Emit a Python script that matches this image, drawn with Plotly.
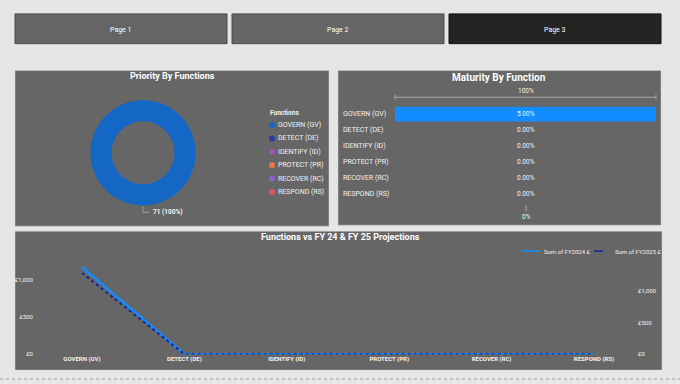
import plotly.graph_objects as go

W, H = 680, 384
def X(px): return px / W
def Y(py): return 1 - py / H

# ---------------- data ----------------
pages = ["Page 1", "Page 2", "Page 3"]
functions = ["GOVERN (GV)", "DETECT (DE)", "IDENTIFY (ID)", "PROTECT (PR)", "RECOVER (RC)", "RESPOND (RS)"]
priority_counts = [71, 0, 0, 0, 0, 0]
func_colors = ["#1467C4", "#2B3B9E", "#A452B5", "#E8794A", "#8E60CC", "#D65A62"]
maturity_pct = [5.00, 0.00, 0.00, 0.00, 0.00, 0.00]
maturity_axis_labels = ["0%", "100%"]
series_names = ["Sum of FY2024 £", "Sum of FY2025 £"]
fy2024 = [1170, 0, 0, 0, 0, 0]
fy2025 = [1280, 0, 0, 0, 0, 0]
money_ticks = [0, 500, 1000]
money_labels = ["£0", "£500", "£1,000"]

FONT = "Roboto"
TXT = "#f2f2f2"
fig = go.Figure()
shapes, annots = [], []

def text(t, x, y, size, anchor="center", color=TXT, bold=False):
    annots.append(dict(text=f"<b>{t}</b>" if bold else t, xref="paper", yref="paper", x=X(x), y=Y(y),
                       showarrow=False, font=dict(family=FONT, size=size, color=color),
                       xanchor=anchor, yanchor="middle"))

# ---------------- page buttons ----------------
btn_x = [(15, 227), (232, 444), (449, 661)]
for i, (p, (x0, x1)) in enumerate(zip(pages, btn_x)):
    active = i == 2
    shapes.append(dict(type="rect", xref="paper", yref="paper", x0=X(x0), x1=X(x1), y0=Y(44), y1=Y(14),
                       fillcolor="#252423" if active else "#656565",
                       line=dict(color="#111111" if active else "#4a4a4a", width=1), layer="below"))
    text(p, (x0 + x1) / 2, 30, 7, color="white")

# ---------------- panels ----------------
for (x0, y0, x1, y1) in [(15, 71, 329, 228), (338, 71, 661, 227), (15, 233, 662, 373)]:
    shapes.append(dict(type="rect", xref="paper", yref="paper", x0=X(x0), x1=X(x1), y0=Y(y1), y1=Y(y0),
                       fillcolor="#666666", line=dict(color="#d0d0d0", width=0.5), layer="below"))
# canvas bottom edge (dotted)
shapes.append(dict(type="line", xref="paper", yref="paper", x0=0, x1=1, y0=Y(382), y1=Y(382),
                   line=dict(color="#9a9a9a", width=1, dash="dot")))

text("Priority By Functions", 172, 77, 9, color="white", bold=True)
text("Maturity By Function", 499, 78, 10, color="white", bold=True)
text("Functions vs FY 24 & FY 25 Projections", 340, 239, 9, color="white", bold=True)

# ---------------- donut ----------------
fig.add_trace(go.Pie(labels=functions, values=priority_counts, hole=0.6, sort=False,
                     marker=dict(colors=func_colors, line=dict(width=0)), textinfo="none",
                     domain=dict(x=[X(90), X(196)], y=[Y(207), Y(101)]), showlegend=False,
                     automargin=False))
total = sum(priority_counts)
text(f"{priority_counts[0]} ({priority_counts[0] / total * 100:.0f}%)", 151, 214, 6.5, anchor="left", bold=True)
shapes.append(dict(type="path", xref="paper", yref="paper",
                   path=f"M {X(143)} {Y(208)} L {X(143)} {Y(214)} L {X(149)} {Y(214)}",
                   line=dict(color="#aaaaaa", width=0.8)))
# legend
text("Functions", 268, 114, 6.5, anchor="left", bold=True)
leg_y = [126, 139.5, 153, 166.5, 180, 193.5]
for name, col, ly in zip(functions, func_colors, leg_y):
    shapes.append(dict(type="circle", xref="paper", yref="paper", x0=X(269), x1=X(275), y0=Y(ly + 3), y1=Y(ly - 3),
                       fillcolor=col, line=dict(width=0)))
    text(name, 276, ly, 7, anchor="left")

# ---------------- maturity bars ----------------
fig.add_trace(go.Bar(y=functions, x=maturity_pct, orientation="h", marker=dict(color="#118DFF", line=dict(width=0)),
                     xaxis="x2", yaxis="y2", showlegend=False, width=0.92))
for f, v in zip(functions, maturity_pct):
    annots.append(dict(text=f"{v:.2f}%", xref="x2 domain", yref="y2", x=0.5, y=f, showarrow=False,
                       font=dict(family=FONT, size=6.5, color=TXT), xanchor="center", yanchor="middle"))
    annots.append(dict(text=f, xref="paper", yref="y2", x=X(341), y=f, showarrow=False,
                       font=dict(family=FONT, size=7, color=TXT), xanchor="left", yanchor="middle"))
text(maturity_axis_labels[1], 526, 92, 6.5)
text(maturity_axis_labels[0], 526, 219, 6.5)
for sh in [(395, 98, 656, 98), (395, 95.5, 395, 100.5), (656, 95.5, 656, 100.5), (526, 207, 526, 213)]:
    shapes.append(dict(type="line", xref="paper", yref="paper", x0=X(sh[0]), y0=Y(sh[1]), x1=X(sh[2]), y1=Y(sh[3]),
                       line=dict(color="#a8a8a8", width=1)))

# ---------------- line chart ----------------
line_styles = [dict(color="#118DFF", width=2.5), dict(color="#12239E", width=2, dash="dot")]
fig.add_trace(go.Scatter(x=functions, y=fy2024, mode="lines", name=series_names[0], showlegend=False,
                         line=line_styles[0], xaxis="x3", yaxis="y3", cliponaxis=False))
fig.add_trace(go.Scatter(x=functions, y=fy2025, mode="lines", name=series_names[1], showlegend=False,
                         line=line_styles[1], xaxis="x3", yaxis="y4", cliponaxis=False))
# legend
for (lx0, lx1), nm, st in zip([(522, 540), (594, 611)], series_names, line_styles):
    shapes.append(dict(type="line", xref="paper", yref="paper", x0=X(lx0), x1=X(lx1), y0=Y(253), y1=Y(253),
                       line=dict(color=st["color"], width=1.5, dash="dash" if "dash" in st else "solid")))
    text(nm, lx1 + 1.5, 253, 6, anchor="left")

axfont = dict(family=FONT, size=6, color=TXT)
fig.update_layout(
    width=W, height=H, margin=dict(l=0, r=0, t=0, b=0),
    paper_bgcolor="#e6e6e6", plot_bgcolor="rgba(0,0,0,0)",
    shapes=shapes, annotations=annots, showlegend=False,
    xaxis2=dict(domain=[X(395), X(656)], range=[0, 5], visible=False, anchor="y2"),
    yaxis2=dict(domain=[Y(204), Y(107)], autorange="reversed", visible=False, anchor="x2"),
    xaxis3=dict(type="category", domain=[X(34), X(637)], range=[-0.469, 5.42], anchor="y3", showgrid=False,
                zeroline=False, showline=False, ticks="", tickfont=dict(family=FONT, size=6, color=TXT),
                tickprefix="<b>", ticksuffix="</b>"),
    yaxis3=dict(domain=[Y(357), Y(262)], range=[0, 1267], anchor="x3", showgrid=False, zeroline=False,
                tickvals=money_ticks, ticktext=money_labels, tickfont=axfont, ticks=""),
    yaxis4=dict(domain=[Y(357), Y(262)], range=[0, 1484], overlaying="y3", side="right", anchor="x3",
                showgrid=False, zeroline=False, tickvals=money_ticks, ticktext=money_labels, tickfont=axfont, ticks=""),
)
fig.write_html("out.html", config={"displayModeBar": False},
               post_script="document.body.style.margin='0';")
